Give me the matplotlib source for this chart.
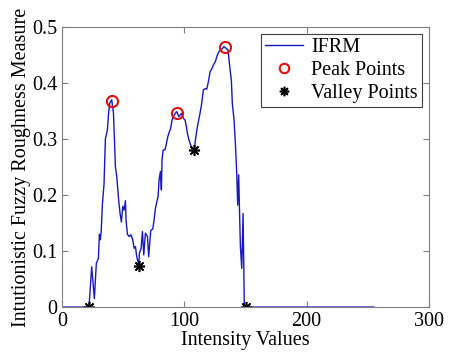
import matplotlib
matplotlib.use("Agg")
import matplotlib.pyplot as plt

# IFRM curve (intensity, measure)
intensity = [0, 22, 24.2, 26.4, 28, 29.7, 30.5, 31.3, 32, 33, 34.3, 35.4, 37, 38, 39,
             40.6, 42, 42.8, 43.6, 44.7, 46.3, 47.4, 48.5, 49.6, 50.7, 51.8, 52.3,
             53.4, 55, 56.4, 57.8, 58.9, 60, 61, 62.1, 62.7, 63.2, 64.6, 65.7, 66.8,
             68.1, 69.8, 70.8, 72.5, 74.1, 75.2, 76.3, 77.7, 78.5, 79.3, 80.4, 81.2,
             81.7, 82.6, 84.2, 85.3, 86.4, 87.7, 88.8, 89.9, 91, 92.6, 93.7, 95.4,
             96.7, 97.8, 99.2, 100.5, 101.4, 102.5, 103.8, 105.2, 106.8, 108, 109,
             110.4, 111.7, 112.8, 114.2, 115.5, 117.2, 118.3, 119.6, 121, 122.6,
             123.7, 125.3, 127, 128.3, 129.7, 131.3, 132.4, 134, 135.7, 136.8, 138.4,
             139.2, 140.6, 141.7, 142.8, 143.6, 144.4, 145, 145.8, 146.9, 148, 149,
             150.4, 255]
ifrm = [0, 0, 0.072, 0.015, 0.078, 0.087, 0.13, 0.12, 0.137, 0.185, 0.22, 0.30, 0.316,
        0.346, 0.364, 0.37, 0.346, 0.30, 0.25, 0.233, 0.19, 0.167, 0.152, 0.18, 0.173,
        0.19, 0.155, 0.13, 0.126, 0.129, 0.12, 0.105, 0.108, 0.09, 0.081, 0.074,
        0.096, 0.105, 0.135, 0.093, 0.132, 0.126, 0.09, 0.137, 0.139, 0.155, 0.176,
        0.19, 0.197, 0.227, 0.242, 0.209, 0.262, 0.28, 0.281, 0.292, 0.304, 0.313,
        0.319, 0.334, 0.34, 0.346, 0.349, 0.34, 0.343, 0.346, 0.337, 0.334, 0.325,
        0.31, 0.298, 0.289, 0.283, 0.28, 0.298, 0.319, 0.334, 0.346, 0.364, 0.388,
        0.39, 0.389, 0.402, 0.42, 0.426, 0.432, 0.438, 0.45, 0.456, 0.459, 0.462,
        0.465, 0.462, 0.459, 0.435, 0.405, 0.364, 0.334, 0.292, 0.239, 0.182, 0.236,
        0.179, 0.108, 0.069, 0.167, 0, 0, 0]

peak_x = [41, 94, 133]
peak_y = [0.368, 0.347, 0.464]
valley_x = [22, 62.7, 108, 150.4]
valley_y = [0, 0.074, 0.28, 0]

plt.rcParams['font.family'] = ['Liberation Serif', 'DejaVu Serif']

fig = plt.figure(figsize=(4.74, 3.55), dpi=100)
ax = fig.add_axes([0.131, 0.135, 0.774, 0.789])

ax.plot(intensity, ifrm, color='#1818c0', lw=1.0, label='IFRM')
ax.plot(peak_x, peak_y, 'o', mfc='none', mec='#e01010', mew=1.5, ms=8,
        ls='none', label='Peak Points')
ax.plot(valley_x, valley_y, marker=(8, 2, 0), color='black', mew=1.2, ms=8,
        ls='none', label='Valley Points')

ax.set_xlim(0, 300)
ax.set_ylim(0, 0.5)
ax.set_xticks([0, 100, 200, 300])
ax.set_yticks([0, 0.1, 0.2, 0.3, 0.4, 0.5])
ax.set_yticklabels(['0', '0.1', '0.2', '0.3', '0.4', '0.5'])
ax.tick_params(direction='in', top=True, right=True, labelsize=14.5,
               color='#808080', length=4)
for s in ax.spines.values():
    s.set_color('#808080')

ax.set_xlabel('Intensity Values', fontsize=14.5, labelpad=0)
ax.set_ylabel('Intutionistic Fuzzy Roughness Measure', fontsize=14.5, labelpad=1)

leg = ax.legend(loc='upper right', fontsize=14.5, fancybox=False, framealpha=1,
                edgecolor='#404040', handlelength=1.9, borderaxespad=0.35,
                labelspacing=0.2, borderpad=0.2, handletextpad=0.4,
                markerscale=0.85)
leg.get_frame().set_linewidth(0.8)

fig.savefig('out.png', dpi=100)
